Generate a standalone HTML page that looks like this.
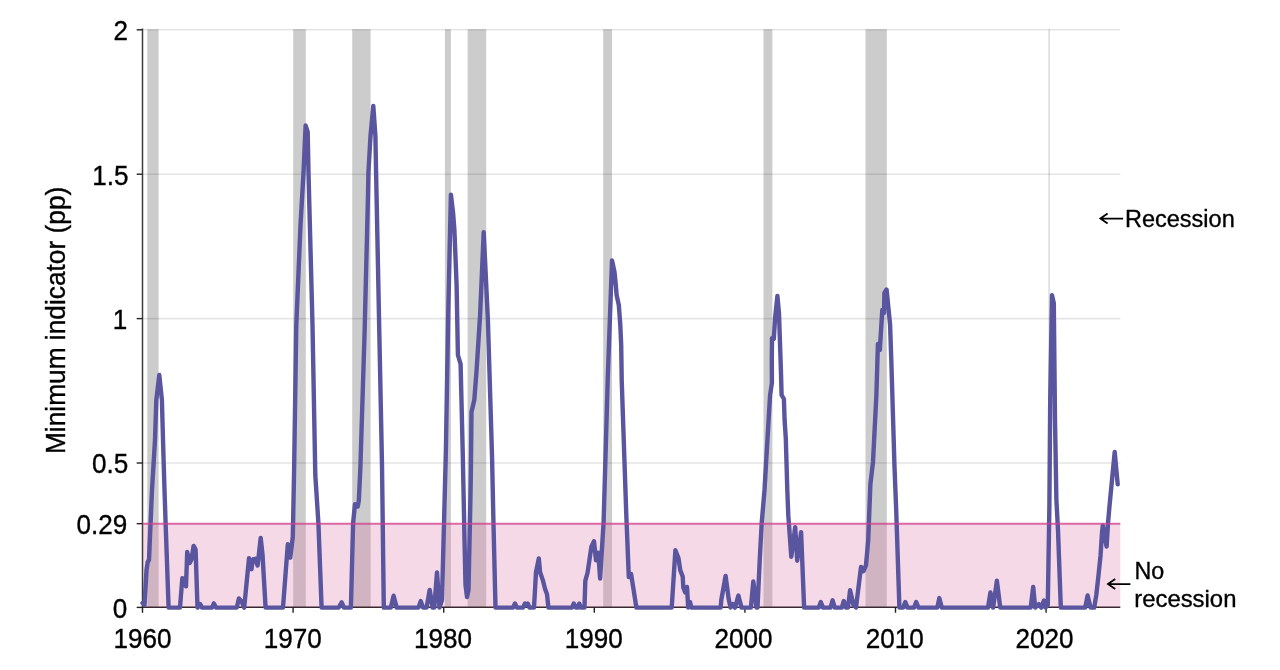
<!DOCTYPE html>
<html><head><meta charset="utf-8"><style>
html,body{margin:0;padding:0;background:#fff;}
body{width:1280px;height:670px;position:relative;overflow:hidden;font-family:"Liberation Sans",sans-serif;}
</style></head><body>
<svg width="1280" height="670" viewBox="0 0 1280 670" style="position:absolute;left:0;top:0;will-change:transform"><rect x="147.3" y="29.2" width="11.30" height="578.10" fill="#cccccc"/><rect x="293.2" y="29.2" width="12.60" height="578.10" fill="#cccccc"/><rect x="352.2" y="29.2" width="18.40" height="578.10" fill="#cccccc"/><rect x="444.9" y="29.2" width="6.00" height="578.10" fill="#cccccc"/><rect x="467.6" y="29.2" width="18.60" height="578.10" fill="#cccccc"/><rect x="603.2" y="29.2" width="8.80" height="578.10" fill="#cccccc"/><rect x="763.5" y="29.2" width="8.90" height="578.10" fill="#cccccc"/><rect x="865.5" y="29.2" width="21.30" height="578.10" fill="#cccccc"/><rect x="1048.55" y="29.2" width="1.10" height="578.10" fill="#cccccc"/><line x1="142.5" y1="29.80" x2="1120.3" y2="29.80" stroke="#000" stroke-opacity="0.105" stroke-width="1.6"/><line x1="142.5" y1="174.20" x2="1120.3" y2="174.20" stroke="#000" stroke-opacity="0.105" stroke-width="1.6"/><line x1="142.5" y1="318.60" x2="1120.3" y2="318.60" stroke="#000" stroke-opacity="0.105" stroke-width="1.6"/><line x1="142.5" y1="463.00" x2="1120.3" y2="463.00" stroke="#000" stroke-opacity="0.105" stroke-width="1.6"/><rect x="142.5" y="523.65" width="977.80" height="83.65" fill="rgb(223,119,169)" fill-opacity="0.28"/><line x1="142.5" y1="28.5" x2="142.5" y2="608.0" stroke="#3c3c3c" stroke-width="1.5"/><line x1="141.8" y1="607.3" x2="1120.3" y2="607.3" stroke="#3a2a30" stroke-width="1.4"/><line x1="136.7" y1="29.80" x2="142.5" y2="29.80" stroke="#222" stroke-width="1.4"/><line x1="136.7" y1="174.20" x2="142.5" y2="174.20" stroke="#222" stroke-width="1.4"/><line x1="136.7" y1="318.60" x2="142.5" y2="318.60" stroke="#222" stroke-width="1.4"/><line x1="136.7" y1="463.00" x2="142.5" y2="463.00" stroke="#222" stroke-width="1.4"/><line x1="136.7" y1="523.65" x2="142.5" y2="523.65" stroke="#222" stroke-width="1.4"/><line x1="136.7" y1="607.40" x2="142.5" y2="607.40" stroke="#222" stroke-width="1.4"/><line x1="142.50" y1="607.3" x2="142.50" y2="612.8" stroke="#222" stroke-width="1.4"/><line x1="293.10" y1="607.3" x2="293.10" y2="612.8" stroke="#222" stroke-width="1.4"/><line x1="443.70" y1="607.3" x2="443.70" y2="612.8" stroke="#222" stroke-width="1.4"/><line x1="594.30" y1="607.3" x2="594.30" y2="612.8" stroke="#222" stroke-width="1.4"/><line x1="744.90" y1="607.3" x2="744.90" y2="612.8" stroke="#222" stroke-width="1.4"/><line x1="895.50" y1="607.3" x2="895.50" y2="612.8" stroke="#222" stroke-width="1.4"/><line x1="1046.10" y1="607.3" x2="1046.10" y2="612.8" stroke="#222" stroke-width="1.4"/><path d="M142.5,603.0 L144.5,605.0 L146.5,570.0 L147.7,562.0 L149.0,560.0 L152.0,490.0 L155.0,440.0 L156.3,400.0 L159.3,375.0 L161.9,400.0 L163.3,450.0 L164.5,490.0 L165.6,523.0 L168.6,607.6 L180.0,607.6 L182.3,578.3 L183.6,579.0 L186.0,586.3 L187.2,552.0 L189.7,563.0 L191.5,559.4 L193.6,545.9 L195.6,549.6 L197.5,607.6 L200.1,604.0 L201.9,607.6 L212.0,607.6 L213.9,603.4 L216.0,607.6 L236.8,607.6 L238.9,598.5 L241.7,601.6 L244.2,607.6 L249.0,558.2 L251.5,569.2 L252.7,559.4 L255.2,558.8 L257.6,565.5 L260.7,538.0 L262.5,554.5 L265.6,607.6 L283.0,607.6 L287.8,544.3 L290.3,557.7 L292.8,536.8 L294.1,470.0 L296.3,325.0 L300.5,224.9 L303.5,173.0 L305.6,125.5 L307.7,132.0 L308.5,173.0 L312.5,325.0 L315.3,475.0 L318.4,523.0 L321.6,607.6 L338.6,607.6 L341.7,602.4 L344.0,607.6 L350.9,607.6 L353.1,523.0 L355.0,504.2 L357.7,506.5 L358.8,500.8 L360.3,470.0 L364.6,332.0 L368.0,195.0 L368.4,173.0 L370.5,136.0 L373.3,106.0 L375.4,136.0 L376.1,173.0 L379.3,332.0 L382.0,465.0 L383.8,607.6 L390.9,607.6 L393.6,595.7 L396.7,607.6 L418.5,607.6 L420.7,601.1 L423.0,607.6 L426.6,607.6 L429.7,589.9 L432.6,607.6 L434.3,607.6 L437.0,572.4 L439.5,607.6 L442.0,600.0 L445.9,450.0 L448.2,315.0 L450.9,194.6 L453.0,212.0 L454.4,230.0 L456.6,285.0 L457.9,355.0 L460.6,364.2 L462.8,455.0 L464.5,540.0 L465.5,585.0 L467.0,597.0 L468.5,590.0 L470.4,500.0 L470.9,470.0 L471.5,412.0 L474.3,400.0 L476.6,370.0 L480.1,315.0 L483.7,232.2 L487.9,320.0 L492.0,455.0 L493.4,520.0 L495.5,607.6 L513.0,607.6 L515.0,603.5 L517.0,607.6 L523.0,607.6 L525.0,603.5 L526.4,605.0 L527.8,603.5 L529.5,607.6 L534.0,607.6 L536.0,572.2 L538.8,558.5 L540.1,572.2 L542.9,580.4 L545.0,588.7 L547.0,594.2 L548.4,607.6 L572.0,607.6 L573.8,603.5 L576.0,607.6 L578.0,607.6 L579.3,603.5 L581.0,607.6 L584.5,607.6 L585.3,580.9 L587.6,572.5 L591.4,546.6 L594.0,541.2 L596.0,560.3 L598.3,552.7 L600.1,578.6 L603.6,522.2 L607.8,377.0 L612.0,260.5 L614.5,272.0 L615.8,285.0 L616.6,295.0 L618.8,305.0 L620.3,325.0 L621.2,345.0 L621.7,380.0 L626.3,515.0 L628.8,577.1 L631.1,574.0 L636.4,607.6 L671.7,607.6 L675.4,550.2 L678.5,558.2 L680.3,570.4 L682.7,576.5 L683.3,587.5 L685.2,592.4 L687.0,586.9 L688.2,607.6 L690.1,602.2 L691.3,607.6 L720.7,607.6 L721.3,599.8 L725.6,575.9 L728.6,598.5 L730.5,607.6 L732.9,604.0 L735.0,607.6 L738.4,595.5 L741.5,607.6 L750.9,607.6 L753.3,581.4 L756.5,607.6 L757.5,607.6 L759.8,558.7 L761.7,523.0 L764.5,490.0 L768.6,420.0 L770.1,395.0 L771.9,383.0 L771.8,360.0 L772.0,338.3 L773.8,339.0 L775.1,317.9 L777.4,296.0 L779.0,313.2 L780.9,370.0 L781.6,395.0 L783.9,399.0 L784.6,420.0 L785.8,438.3 L787.3,490.0 L788.3,515.4 L791.3,556.8 L795.2,527.2 L797.2,560.7 L801.1,532.2 L804.1,607.6 L818.8,607.6 L820.8,602.0 L823.0,607.6 L830.5,607.6 L832.6,600.3 L834.8,607.6 L841.8,607.6 L843.8,601.0 L846.0,607.6 L848.0,607.6 L850.1,590.3 L853.5,605.0 L856.0,607.6 L861.0,566.9 L863.5,571.1 L866.0,565.2 L868.2,540.1 L870.4,484.2 L873.0,461.9 L876.4,395.0 L877.9,344.0 L879.8,350.0 L882.3,310.0 L884.0,313.0 L884.4,293.0 L886.6,289.5 L890.1,325.0 L891.3,360.0 L893.7,440.0 L894.5,467.0 L896.2,510.0 L899.4,607.6 L903.3,607.6 L905.3,602.0 L907.5,607.6 L914.0,607.6 L916.2,602.0 L918.5,607.6 L937.3,607.6 L939.3,598.1 L941.8,607.6 L988.0,607.6 L990.4,592.5 L993.1,607.6 L996.9,580.8 L1000.2,607.6 L1030.7,607.6 L1033.2,586.9 L1035.2,607.6 L1038.8,604.2 L1041.3,607.6 L1043.9,600.6 L1045.5,607.6 L1047.8,604.8 L1049.4,505.0 L1050.2,400.0 L1052.0,295.2 L1053.8,303.3 L1055.0,420.0 L1056.4,500.0 L1058.0,530.0 L1060.8,607.6 L1085.2,607.6 L1087.6,595.5 L1090.5,607.6 L1094.2,607.6 L1096.3,595.0 L1098.2,578.0 L1100.5,556.0 L1102.0,533.0 L1102.8,525.5 L1106.6,546.5 L1108.1,522.0 L1109.5,506.0 L1114.7,452.0 L1117.7,484.4" fill="none" stroke="#5a559f" stroke-width="4.4" stroke-linejoin="round" stroke-linecap="round"/><line x1="142.5" y1="523.65" x2="1120.3" y2="523.65" stroke="rgb(208,62,140)" stroke-opacity="0.75" stroke-width="2.0"/><text x="0" y="0" transform="translate(128.10,40.10) scale(0.985,1.03)" font-size="26.5" text-anchor="end" font-family="Liberation Sans" fill="#000" stroke="#000" stroke-width="0.35">2</text><text x="0" y="0" transform="translate(128.50,184.50) scale(0.985,1.03)" font-size="26.5" text-anchor="end" font-family="Liberation Sans" fill="#000" stroke="#000" stroke-width="0.35">1.5</text><text x="0" y="0" transform="translate(127.30,328.90) scale(0.985,1.03)" font-size="26.5" text-anchor="end" font-family="Liberation Sans" fill="#000" stroke="#000" stroke-width="0.35">1</text><text x="0" y="0" transform="translate(128.30,473.30) scale(0.985,1.03)" font-size="26.5" text-anchor="end" font-family="Liberation Sans" fill="#000" stroke="#000" stroke-width="0.35">0.5</text><text x="0" y="0" transform="translate(127.30,533.95) scale(0.985,1.03)" font-size="26.5" text-anchor="end" font-family="Liberation Sans" fill="#000" stroke="#000" stroke-width="0.35">0.29</text><text x="0" y="0" transform="translate(127.30,617.70) scale(0.985,1.03)" font-size="26.5" text-anchor="end" font-family="Liberation Sans" fill="#000" stroke="#000" stroke-width="0.35">0</text><text x="0" y="0" transform="translate(142.55,647.8) scale(0.985,1.03)" font-size="26.5" text-anchor="middle" font-family="Liberation Sans" fill="#000" stroke="#000" stroke-width="0.35">1960</text><text x="0" y="0" transform="translate(292.75,647.8) scale(0.985,1.03)" font-size="26.5" text-anchor="middle" font-family="Liberation Sans" fill="#000" stroke="#000" stroke-width="0.35">1970</text><text x="0" y="0" transform="translate(443.05,647.8) scale(0.985,1.03)" font-size="26.5" text-anchor="middle" font-family="Liberation Sans" fill="#000" stroke="#000" stroke-width="0.35">1980</text><text x="0" y="0" transform="translate(593.65,647.8) scale(0.985,1.03)" font-size="26.5" text-anchor="middle" font-family="Liberation Sans" fill="#000" stroke="#000" stroke-width="0.35">1990</text><text x="0" y="0" transform="translate(743.50,647.8) scale(0.985,1.03)" font-size="26.5" text-anchor="middle" font-family="Liberation Sans" fill="#000" stroke="#000" stroke-width="0.35">2000</text><text x="0" y="0" transform="translate(894.85,647.8) scale(0.985,1.03)" font-size="26.5" text-anchor="middle" font-family="Liberation Sans" fill="#000" stroke="#000" stroke-width="0.35">2010</text><text x="0" y="0" transform="translate(1044.55,647.8) scale(0.985,1.03)" font-size="26.5" text-anchor="middle" font-family="Liberation Sans" fill="#000" stroke="#000" stroke-width="0.35">2020</text><text x="0" y="0" transform="translate(65.2,320.4) rotate(-90) scale(1,1.05)" font-size="26.3" text-anchor="middle" font-family="Liberation Sans" fill="#000" stroke="#000" stroke-width="0.35">Minimum indicator (pp)</text><text x="0" y="0" transform="translate(1125.0,226.8) scale(0.984,1)" font-size="23.9" font-family="Liberation Sans" fill="#000" stroke="#000" stroke-width="0.35">Recession</text><text x="1134.4" y="579.2" font-size="23.3" font-family="Liberation Sans" fill="#000" stroke="#000" stroke-width="0.35">No</text><text x="1134.2" y="606.6" font-size="23.9" font-family="Liberation Sans" fill="#000" stroke="#000" stroke-width="0.35">recession</text><path d="M1123.1,218.6 L1100.6,218.6 M1107.6,213.6 L1100.3999999999999,218.6 L1107.6,223.6" fill="none" stroke="#000" stroke-width="1.8" stroke-linecap="butt" stroke-linejoin="miter"/><path d="M1130.4,584.1 L1108.2,584.1 M1115.2,579.1 L1108.0,584.1 L1115.2,589.1" fill="none" stroke="#000" stroke-width="1.8" stroke-linecap="butt" stroke-linejoin="miter"/></svg>
</body></html>
